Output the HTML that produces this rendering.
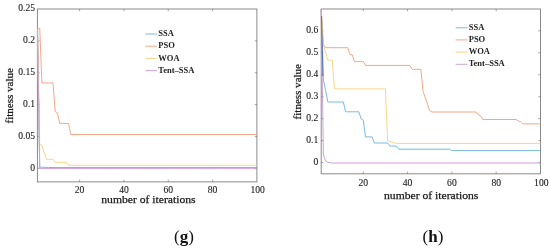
<!DOCTYPE html>
<html><head><meta charset="utf-8"><title>Convergence curves</title>
<style>
html,body{margin:0;padding:0;background:#fff;}
body{width:550px;height:249px;overflow:hidden;}
svg{display:block;}
text{font-family:"Liberation Serif","DejaVu Serif",serif;fill:#1a1a1a;}
.tk{font-size:9.6px;stroke:#1a1a1a;stroke-width:0.1px;}
.al{font-size:10.8px;stroke:#1a1a1a;stroke-width:0.25px;}
.lg{font-size:8.5px;font-weight:bold;fill:#222;}
.cap{font-size:17px;fill:#111;}
</style></head><body>
<svg width="550" height="249" viewBox="0 0 550 249">
<rect width="550" height="249" fill="#ffffff"/>
<g id="panel-g">
<rect x="37.4" y="9" width="219.5" height="172.9" fill="none" stroke="#858585" stroke-width="0.95"/>
<path d="M79.61 181.9v-2.2M79.61 9v2.2M123.93 181.9v-2.2M123.93 9v2.2M168.26 181.9v-2.2M168.26 9v2.2M212.58 181.9v-2.2M212.58 9v2.2M37.4 168.3h2.2M256.9 168.3h-2.2M37.4 136.45h2.2M256.9 136.45h-2.2M37.4 104.6h2.2M256.9 104.6h-2.2M37.4 72.75h2.2M256.9 72.75h-2.2M37.4 40.9h2.2M256.9 40.9h-2.2" stroke="#6a6a6a" stroke-width="0.6" fill="none"/>
<path d="M37.5 28.3L39.72 167.1L48.58 167.5L256.9 167.5" stroke="#62acdd" stroke-width="0.85" fill="none" stroke-linejoin="round"/>
<path d="M37.5 28.3L39.72 28.3L41.93 83L53.01 83L55.23 111.6L57.45 112.8L59.66 123.4L68.53 123.4L70.74 134.5L256.9 134.5" stroke="#f09873" stroke-width="0.85" fill="none" stroke-linejoin="round"/>
<path d="M37.5 28.3L39.72 144.2L41.93 145.6L44.15 152.5L46.36 159.3L53.01 159.3L55.23 162.3L66.31 162.3L68.53 165.3L256.9 165.3" stroke="#f5cf72" stroke-width="0.85" fill="none" stroke-linejoin="round"/>
<path d="M37.5 28.3L39.72 168.6L256.9 168.7" stroke="#c391d0" stroke-width="0.85" fill="none" stroke-linejoin="round"/>
<path d="M37.6 30L39.6 166" stroke="#d6b0c4" stroke-width="0.9" fill="none" opacity="0.6"/>
<text x="79.61" y="192.8" text-anchor="middle" class="tk">20</text>
<text x="123.93" y="192.8" text-anchor="middle" class="tk">40</text>
<text x="168.26" y="192.8" text-anchor="middle" class="tk">60</text>
<text x="212.58" y="192.8" text-anchor="middle" class="tk">80</text>
<text x="257.7" y="192.8" text-anchor="middle" class="tk">100</text>
<text x="35.1" y="170.55" text-anchor="end" class="tk">0</text>
<text x="35.1" y="138.7" text-anchor="end" class="tk">0.05</text>
<text x="35.1" y="106.85" text-anchor="end" class="tk">0.1</text>
<text x="35.1" y="75" text-anchor="end" class="tk">0.15</text>
<text x="35.1" y="43.15" text-anchor="end" class="tk">0.2</text>
<text x="35.1" y="11.3" text-anchor="end" class="tk">0.25</text>
<path d="M145.3 34h11.8" stroke="#62acdd" stroke-width="0.85" fill="none"/>
<text x="158.3" y="36.1" class="lg">SSA</text>
<path d="M145.3 46.2h11.8" stroke="#f09873" stroke-width="0.85" fill="none"/>
<text x="158.3" y="48.3" class="lg">PSO</text>
<path d="M145.3 58.4h11.8" stroke="#f5cf72" stroke-width="0.85" fill="none"/>
<text x="158.3" y="60.5" class="lg">WOA</text>
<path d="M145.3 70.6h11.8" stroke="#c391d0" stroke-width="0.85" fill="none"/>
<text x="158.3" y="72.7" class="lg">Tent–SSA</text>
<text x="101.3" y="203.3" textLength="94.3" lengthAdjust="spacingAndGlyphs" class="al">number of iterations</text>
<text transform="translate(13 123.5) rotate(-90)" textLength="55.4" lengthAdjust="spacingAndGlyphs" class="al">fitness value</text>
<text x="184" y="242" text-anchor="middle" class="cap">(<tspan font-weight="bold">g</tspan>)</text>
</g>
<g id="panel-h">
<rect x="321.2" y="9" width="219.3" height="164.8" fill="none" stroke="#858585" stroke-width="0.95"/>
<path d="M363.29 173.8v-2.2M363.29 9v2.2M407.59 173.8v-2.2M407.59 9v2.2M451.9 173.8v-2.2M451.9 9v2.2M496.2 173.8v-2.2M496.2 9v2.2M321.2 162.6h2.2M540.5 162.6h-2.2M321.2 140.64h2.2M540.5 140.64h-2.2M321.2 118.68h2.2M540.5 118.68h-2.2M321.2 96.72h2.2M540.5 96.72h-2.2M321.2 74.76h2.2M540.5 74.76h-2.2M321.2 52.8h2.2M540.5 52.8h-2.2M321.2 30.84h2.2M540.5 30.84h-2.2" stroke="#6a6a6a" stroke-width="0.6" fill="none"/>
<path d="M321.2 9L323.42 80L325.63 90.5L327.85 102L343.35 102L345.57 111.8L358.86 111.8L361.07 118.8L363.29 120.2L365.5 136.9L372.15 136.9L374.36 143L387.66 143L389.87 146L396.52 146L398.73 149.2L449.68 149.2L451.9 150.6L540.5 150.6" stroke="#62acdd" stroke-width="0.85" fill="none" stroke-linejoin="round"/>
<path d="M321.2 9L323.42 44.8L325.63 47.7L347.78 47.7L350 54.8L352.21 54.8L354.43 61.4L363.29 61.4L365.5 65.4L409.81 65.4L412.02 69.3L420.88 69.3L423.1 91.4L429.74 110.7L431.96 112L476.26 112L478.48 115.2L480.69 116L482.91 119.5L516.14 119.5L518.35 121L520.57 121.6L522.78 123.9L540.5 123.9" stroke="#f09873" stroke-width="0.85" fill="none" stroke-linejoin="round"/>
<path d="M321.2 9L323.42 44.8L327.85 60.1L332.28 60.1L334.49 88.9L385.44 88.9L387.66 141.2L392.09 142.2L396.52 143.4L540.5 143.4" stroke="#f5cf72" stroke-width="0.85" fill="none" stroke-linejoin="round"/>
<path d="M321.2 9L323.42 155L325.63 161L327.85 162.3L332.28 163L540.5 163" stroke="#c391d0" stroke-width="0.85" fill="none" stroke-linejoin="round"/>
<path d="M321.5 16L322.2 44L322.9 76" stroke="#4f63bd" stroke-width="1" fill="none" opacity="0.85"/>
<text x="363.29" y="185.5" text-anchor="middle" class="tk">20</text>
<text x="407.59" y="185.5" text-anchor="middle" class="tk">40</text>
<text x="451.9" y="185.5" text-anchor="middle" class="tk">60</text>
<text x="496.2" y="185.5" text-anchor="middle" class="tk">80</text>
<text x="541.3" y="185.5" text-anchor="middle" class="tk">100</text>
<text x="318.3" y="164.85" text-anchor="end" class="tk">0</text>
<text x="318.3" y="142.89" text-anchor="end" class="tk">0.1</text>
<text x="318.3" y="120.93" text-anchor="end" class="tk">0.2</text>
<text x="318.3" y="98.97" text-anchor="end" class="tk">0.3</text>
<text x="318.3" y="77.01" text-anchor="end" class="tk">0.4</text>
<text x="318.3" y="55.05" text-anchor="end" class="tk">0.5</text>
<text x="318.3" y="33.09" text-anchor="end" class="tk">0.6</text>
<path d="M455.7 27.8h11.8" stroke="#62acdd" stroke-width="0.85" fill="none"/>
<text x="468.7" y="29.9" class="lg">SSA</text>
<path d="M455.7 39.9h11.8" stroke="#f09873" stroke-width="0.85" fill="none"/>
<text x="468.7" y="42" class="lg">PSO</text>
<path d="M455.7 52.1h11.8" stroke="#f5cf72" stroke-width="0.85" fill="none"/>
<text x="468.7" y="54.2" class="lg">WOA</text>
<path d="M455.7 64.3h11.8" stroke="#c391d0" stroke-width="0.85" fill="none"/>
<text x="468.7" y="66.4" class="lg">Tent–SSA</text>
<text x="384" y="199.4" textLength="94.3" lengthAdjust="spacingAndGlyphs" class="al">number of iterations</text>
<text transform="translate(300.6 119.4) rotate(-90)" textLength="55.4" lengthAdjust="spacingAndGlyphs" class="al">fitness value</text>
<text x="433" y="242" text-anchor="middle" class="cap">(<tspan font-weight="bold">h</tspan>)</text>
</g>
</svg>
</body></html>
